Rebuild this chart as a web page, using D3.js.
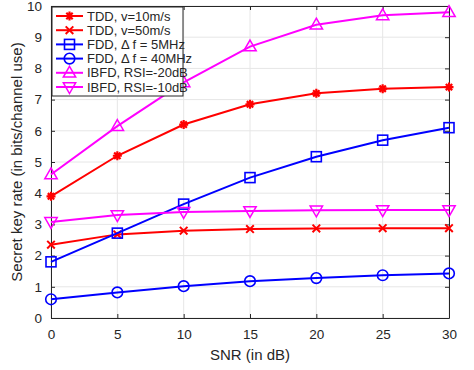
<!DOCTYPE html>
<html>
<head>
<meta charset="utf-8">
<script src="https://cdn.jsdelivr.net/npm/d3@7"></script>
<style>
body { margin: 0; background: #fff; }
text { font-family: "Liberation Sans", Arial, sans-serif; fill: #262626; }
</style>
</head>
<body>
<script>
var snr = [0, 5, 10, 15, 20, 25, 30];
var tdd10 = [3.9, 5.2, 6.2, 6.85, 7.2, 7.35, 7.4];
var tdd50 = [2.35, 2.68, 2.8, 2.85, 2.87, 2.88, 2.88];
var fdd5 = [1.8, 2.72, 3.65, 4.5, 5.17, 5.7, 6.1];
var fdd40 = [0.6, 0.82, 1.02, 1.18, 1.28, 1.37, 1.43];
var ibfd20 = [4.6, 6.15, 7.55, 8.7, 9.4, 9.7, 9.8];
var ibfd10 = [3.08, 3.3, 3.4, 3.43, 3.45, 3.46, 3.46];
var names = ["TDD, v=10m/s", "TDD, v=50m/s", "FDD, \u0394 f = 5MHz", "FDD, \u0394 f = 40MHz", "IBFD, RSI=-20dB", "IBFD, RSI=-10dB"];
var xTicks = [0, 5, 10, 15, 20, 25, 30];
var yTicks = [0, 1, 2, 3, 4, 5, 6, 7, 8, 9, 10];

var series = [
  {name: names[0], vals: tdd10, color: "#ff0000", mark: "star"},
  {name: names[1], vals: tdd50, color: "#ff0000", mark: "x"},
  {name: names[2], vals: fdd5, color: "#0000ff", mark: "square"},
  {name: names[3], vals: fdd40, color: "#0000ff", mark: "circle"},
  {name: names[4], vals: ibfd20, color: "#ff00ff", mark: "up"},
  {name: names[5], vals: ibfd10, color: "#ff00ff", mark: "down"}
];

var width = 474, height = 370;
var pLeft = 51, pRight = 449, pTop = 6, pBottom = 318;

var svg = d3.select("body").append("svg")
  .attr("width", width).attr("height", height);

var x = d3.scaleLinear().domain([0, 30]).range([pLeft, pRight]);
var y = d3.scaleLinear().domain([0, 10]).range([pBottom, pTop]);

// grid
svg.append("g").selectAll("line").data(xTicks).enter().append("line")
  .attr("x1", d => x(d)).attr("x2", d => x(d))
  .attr("y1", pTop).attr("y2", pBottom)
  .attr("stroke", "#e6e6e6").attr("stroke-width", 1);
svg.append("g").selectAll("line").data(yTicks).enter().append("line")
  .attr("x1", pLeft).attr("x2", pRight)
  .attr("y1", d => y(d)).attr("y2", d => y(d))
  .attr("stroke", "#e6e6e6").attr("stroke-width", 1);

// axes
var xAxis = d3.axisBottom(x).tickValues(xTicks).tickSizeInner(-4).tickSizeOuter(0).tickPadding(11);
var yAxis = d3.axisLeft(y).tickValues(yTicks).tickSizeInner(-4).tickSizeOuter(0).tickPadding(9);
var gx = svg.append("g").attr("transform", "translate(0," + pBottom + ")").call(xAxis);
var gy = svg.append("g").attr("transform", "translate(" + pLeft + ",0)").call(yAxis);
var gx2 = svg.append("g").attr("transform", "translate(0," + pTop + ")")
  .call(d3.axisTop(x).tickValues(xTicks).tickSizeInner(-4).tickSizeOuter(0).tickFormat(""));
var gy2 = svg.append("g").attr("transform", "translate(" + pRight + ",0)")
  .call(d3.axisRight(y).tickValues(yTicks).tickSizeInner(-4).tickSizeOuter(0).tickFormat(""));
[gx, gy, gx2, gy2].forEach(function(g) {
  g.selectAll("path").attr("stroke", "#262626");
  g.selectAll("line").attr("stroke", "#262626");
  g.selectAll("text").style("font-size", "13.5px").attr("fill", "#262626")
    .style("font-family", "Liberation Sans, Arial, sans-serif");
});

svg.append("text").attr("x", (pLeft + pRight) / 2).attr("y", 360)
  .attr("text-anchor", "middle").style("font-size", "15px")
  .text("SNR (in dB)");
svg.append("text").attr("transform", "translate(22," + ((pTop + pBottom) / 2) + ") rotate(-90)")
  .attr("text-anchor", "middle").style("font-size", "15px")
  .text("Secret key rate (in bits/channel use)");

function drawMarker(g, mark, color, cx, cy) {
  var s = 4.5;
  if (mark === "star") {
    var p = "";
    [0, 45, 90, 135].forEach(function(a) {
      var r = a * Math.PI / 180;
      p += "M" + (cx - s * Math.cos(r)) + "," + (cy - s * Math.sin(r)) +
           "L" + (cx + s * Math.cos(r)) + "," + (cy + s * Math.sin(r));
    });
    g.append("path").attr("d", p).attr("stroke", color).attr("stroke-width", 2.2).attr("fill", "none");
  } else if (mark === "x") {
    var t = 3.8;
    g.append("path").attr("d", "M" + (cx - t) + "," + (cy - t) + "L" + (cx + t) + "," + (cy + t) +
      "M" + (cx - t) + "," + (cy + t) + "L" + (cx + t) + "," + (cy - t))
      .attr("stroke", color).attr("stroke-width", 2).attr("fill", "none");
  } else if (mark === "square") {
    g.append("rect").attr("x", cx - 5).attr("y", cy - 5).attr("width", 10).attr("height", 10)
      .attr("stroke", color).attr("stroke-width", 1.6).attr("fill", "none");
  } else if (mark === "circle") {
    g.append("circle").attr("cx", cx).attr("cy", cy).attr("r", 5.3)
      .attr("stroke", color).attr("stroke-width", 1.6).attr("fill", "none");
  } else if (mark === "up") {
    g.append("path").attr("d", "M" + cx + "," + (cy - 6.5) + "L" + (cx + 6.2) + "," + (cy + 4.3) + "L" + (cx - 6.2) + "," + (cy + 4.3) + "Z")
      .attr("stroke", color).attr("stroke-width", 1.5).attr("fill", "none");
  } else if (mark === "down") {
    g.append("path").attr("d", "M" + cx + "," + (cy + 6.5) + "L" + (cx + 6.2) + "," + (cy - 4.3) + "L" + (cx - 6.2) + "," + (cy - 4.3) + "Z")
      .attr("stroke", color).attr("stroke-width", 1.5).attr("fill", "none");
  }
}

var line = d3.line().x((d, i) => x(snr[i])).y(d => y(d));

series.forEach(function(s) {
  var g = svg.append("g");
  g.append("path").datum(s.vals).attr("d", line)
    .attr("stroke", s.color).attr("stroke-width", 2).attr("fill", "none");
  s.vals.forEach(function(v, i) {
    drawMarker(g, s.mark, s.color, x(snr[i]), y(v));
  });
});

// legend
var lg = svg.append("g");
lg.append("rect").attr("x", 52).attr("y", 7).attr("width", 131).attr("height", 89)
  .attr("fill", "#fff").attr("stroke", "#262626").attr("stroke-width", 1);
series.forEach(function(s, i) {
  var ly = 16 + i * 14.2;
  lg.append("line").attr("x1", 56).attr("x2", 83).attr("y1", ly).attr("y2", ly)
    .attr("stroke", s.color).attr("stroke-width", 2);
  drawMarker(lg, s.mark, s.color, 69.5, ly);
  lg.append("text").attr("x", 87).attr("y", ly + 4.5).style("font-size", "13px").text(s.name);
});
</script>
</body>
</html>
